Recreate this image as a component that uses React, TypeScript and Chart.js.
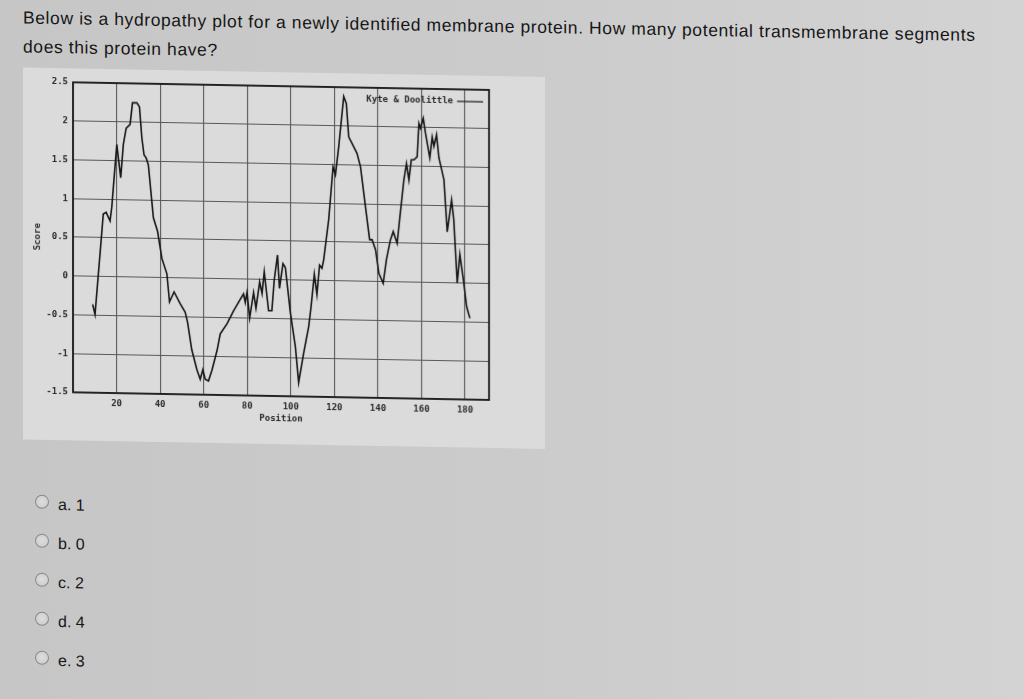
import { useEffect, useRef } from "react";
import { Chart, registerables } from "chart.js";

Chart.register(...registerables);

const QUESTION_LINES = [
  "Below is a hydropathy plot for a newly identified membrane protein. How many potential transmembrane segments",
  "does this protein have?",
];
const CHOICES = ["a. 1", "b. 0", "c. 2", "d. 4", "e. 3"];

const SERIES_LABEL = "Kyte & Doolittle";
const X_TITLE = "Position";
const Y_TITLE = "Score";

const X_MIN = 0;
const X_MAX = 191;
const X_STEP = 20;
const Y_MIN = -1.5;
const Y_MAX = 2.5;
const Y_STEP = 0.5;

const POSITIONS = [
  9.0, 10.1, 13.9, 15.2, 17.0, 17.8, 18.5, 20.1, 20.8, 21.9, 23.1, 24.4, 26.2, 27.3, 29.3,
  30.5, 31.6, 32.6, 33.6, 34.6, 36.9, 38.8, 40.8, 43.1, 44.3, 46.4, 49.2, 51.5, 52.6, 54.5,
  56.9, 58.4, 59.6, 60.7, 62.2, 63.8, 66.1, 67.6, 70.7, 73.7, 76.8, 78.3, 79.1, 79.9, 81.1,
  82.9, 84.0, 85.7, 86.8, 87.8, 89.8, 91.3, 92.4, 93.9, 94.8, 96.4, 97.5, 99.8, 102.1, 103.6,
  105.9, 108.2, 109.3, 110.8, 112.0, 113.2, 114.3, 115.1, 115.9, 117.4, 119.4, 120.5, 122.0,
  124.3, 125.5, 126.6, 128.1, 130.4, 132.0, 134.3, 136.2, 137.3, 138.9, 140.4, 142.4, 143.9,
  145.7, 147.0, 148.8, 150.1, 151.9, 153.1, 154.2, 155.3, 156.5, 158.0, 158.8, 159.5, 160.8,
  161.8, 163.8, 164.9, 165.7, 166.9, 168.0, 170.3, 171.8, 173.8, 174.8, 176.4, 177.6, 179.2,
  180.7, 182.2,
];

const SCORES = [
  -0.36, -0.49, 0.81, 0.83, 0.72, 0.9, 1.15, 1.71, 1.54, 1.28, 1.71, 1.92, 1.97, 2.25, 2.25,
  2.2, 1.8, 1.58, 1.54, 1.45, 0.77, 0.6, 0.25, 0.05, -0.31, -0.18, -0.33, -0.44, -0.57, -0.92,
  -1.18, -1.3, -1.18, -1.3, -1.32, -1.18, -0.93, -0.71, -0.58, -0.41, -0.26, -0.19, -0.3, -0.17, -0.5,
  -0.17, -0.37, -0.03, -0.18, 0.1, -0.4, -0.4, 0.0, 0.32, -0.11, 0.21, 0.16, -0.42, -0.86, -1.32,
  -0.94, -0.6, -0.34, 0.08, -0.18, 0.2, 0.16, 0.27, 0.45, 0.79, 1.47, 1.37, 1.73,
  2.38, 2.29, 1.86, 1.78, 1.65, 1.48, 0.96, 0.54, 0.54, 0.41, 0.11, -0.02, 0.29,
  0.54, 0.65, 0.5, 0.85, 1.32, 1.53, 1.32, 1.58, 1.58, 1.62, 2.05, 1.99, 2.12,
  1.93, 1.61, 1.88, 1.76, 1.91, 1.61, 1.33, 0.66, 1.07, 0.82, 0.0, 0.37, 0.05,
  -0.3, -0.45,
];

const MONO = '"DejaVu Sans Mono", monospace';
const INK = "#2a2a2a";

const framePlugin = {
  id: "gnuFrame",
  afterDraw(chart: any) {
    const { ctx, chartArea } = chart;
    const ds = chart.data.datasets[0];
    ctx.save();
    ctx.strokeStyle = "#1a1a1a";
    ctx.lineWidth = 1.8;
    ctx.strokeRect(
      chartArea.left,
      chartArea.top,
      chartArea.right - chartArea.left,
      chartArea.bottom - chartArea.top
    );
    // key (legend) in the top right of the plot, gnuplot style
    const y = chartArea.top + 12;
    const lineEnd = chartArea.right - 6;
    const lineStart = lineEnd - 26;
    ctx.font = `bold 9px ${MONO}`;
    ctx.fillStyle = INK;
    ctx.textAlign = "right";
    ctx.textBaseline = "middle";
    ctx.fillText(ds.label, lineStart - 4, y);
    ctx.strokeStyle = ds.borderColor;
    ctx.lineWidth = 1.2;
    ctx.beginPath();
    ctx.moveTo(lineStart, y);
    ctx.lineTo(lineEnd, y);
    ctx.stroke();
    ctx.restore();
  },
};

function HydropathyChart() {
  const canvasRef = useRef<HTMLCanvasElement | null>(null);

  useEffect(() => {
    if (!canvasRef.current) return;
    const points = POSITIONS.map((x, i) => ({ x, y: SCORES[i] }));
    const tickFont = { family: MONO, size: 9, weight: "bold" as const };
    const chart = new Chart(canvasRef.current, {
      type: "line",
      data: {
        datasets: [
          {
            label: SERIES_LABEL,
            data: points,
            borderColor: "#151515",
            borderWidth: 1.6,
            pointRadius: 0,
            tension: 0,
            fill: false,
          },
        ],
      },
      options: {
        animation: false,
        responsive: true,
        maintainAspectRatio: false,
        layout: { padding: { top: 14, right: 56, left: 0, bottom: 0 } },
        plugins: {
          legend: { display: false },
          tooltip: { enabled: false },
        },
        scales: {
          x: {
            type: "linear",
            min: X_MIN,
            max: X_MAX,
            afterFit: (scale: any) => {
              scale.height = 48;
            },
            ticks: {
              stepSize: X_STEP,
              includeBounds: false,
              padding: 5,
              maxRotation: 0,
              color: INK,
              font: tickFont,
              callback: (v: any) => (Number(v) === 0 ? "" : String(v)),
            },
            grid: { color: "#585858", lineWidth: 1.1, drawTicks: false },
            border: { display: false },
            title: {
              display: true,
              text: X_TITLE,
              color: INK,
              font: tickFont,
              padding: { top: 0, bottom: 20 },
            },
          },
          y: {
            type: "linear",
            min: Y_MIN,
            max: Y_MAX,
            afterFit: (scale: any) => {
              scale.width = 50;
            },
            ticks: {
              stepSize: Y_STEP,
              padding: 5,
              color: INK,
              font: tickFont,
              callback: (v: any) => String(v),
            },
            grid: { color: "#585858", lineWidth: 1.1, drawTicks: false },
            border: { display: false },
            title: {
              display: true,
              text: Y_TITLE,
              color: INK,
              font: tickFont,
              padding: { top: 9, bottom: 0 },
            },
          },
        },
      },
      plugins: [framePlugin],
    });
    return () => chart.destroy();
  }, []);

  return <canvas ref={canvasRef} />;
}

export default function App() {
  return (
    <div
      style={{
        position: "fixed",
        inset: 0,
        overflow: "hidden",
        background: "linear-gradient(90deg, #c6c6c6 0%, #cbcbcb 50%, #d3d3d3 100%)",
        fontFamily: '"Liberation Sans", Arial, sans-serif',
        color: "#161616",
      }}
    >
      <div
        style={{
          position: "absolute",
          left: 0,
          top: 0,
          width: 1024,
          height: 699,
          transform: "skewY(1.05deg)",
          transformOrigin: "0 0",
        }}
      >
        {QUESTION_LINES.map((line, i) => (
          <div
            key={i}
            style={{
              position: "absolute",
              left: 23,
              top: 2.5 + i * 29,
              fontSize: 17.5,
              letterSpacing: "0.6px",
              lineHeight: "29px",
              whiteSpace: "nowrap",
            }}
          >
            {line}
          </div>
        ))}

        <div
          style={{
            position: "absolute",
            left: 23,
            top: 67,
            width: 522,
            height: 372,
            background: "#dbdbdb",
          }}
        >
          <HydropathyChart />
        </div>

        {CHOICES.map((c, i) => (
          <div key={c}>
            <span
              style={{
                position: "absolute",
                left: 35,
                top: 494 + i * 39,
                width: 12,
                height: 12,
                borderRadius: "50%",
                border: "1px solid #8a8a8a",
                background: "radial-gradient(circle at 50% 45%, #dedede 0%, #c9c9c9 100%)",
              }}
            />
            <div
              style={{
                position: "absolute",
                left: 58,
                top: 495.5 + i * 39,
                fontSize: 16,
                lineHeight: "16px",
                whiteSpace: "nowrap",
              }}
            >
              {c}
            </div>
          </div>
        ))}
      </div>
    </div>
  );
}
